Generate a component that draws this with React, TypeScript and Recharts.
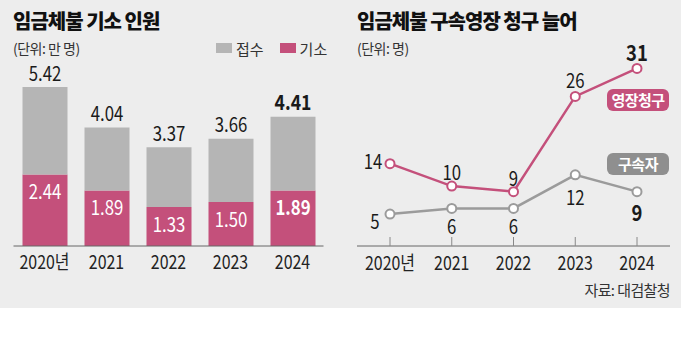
import React from "react";
import { BarChart, Bar, LineChart, Line, XAxis, YAxis, LabelList } from "recharts";

const years = ["2020년", "2021", "2022", "2023", "2024"];
const received = [5.42, 4.04, 3.37, 3.66, 4.41];
const indicted = [2.44, 1.89, 1.33, 1.5, 1.89];
const warrants = [14, 10, 9, 26, 31];
const arrested = [5, 6, 6, 12, 9];

const PINK = "#c4507b";
const BAR_GRAY = "#b5b5b5";
const LINE_GRAY = "#9b9b9b";
const BG = "#ededed";
const KR = "'Noto Sans CJK KR', 'Noto Sans', sans-serif";

const barData = years.map((year, i) => ({
  year,
  total: received[i],
  indicted: indicted[i],
  rest: +(received[i] - indicted[i]).toFixed(2),
}));

const lineData = years.map((year, i) => ({
  year,
  warrant: warrants[i],
  arrested: arrested[i],
}));

const fmt = (v: number) => v.toFixed(2);
const last = years.length - 1;

// condensed-looking text: squeeze horizontally around the anchor point
function Narrow({ x, y, size, bold, fill, children }: any) {
  return (
    <text
      transform={`translate(${x},${y}) scale(0.84,1)`}
      textAnchor="middle"
      dominantBaseline="central"
      fontSize={size}
      fontWeight={bold ? 700 : 400}
      fontFamily={KR}
      fill={fill}
    >
      {children}
    </text>
  );
}

function BarTick({ x, y, payload }: any) {
  return (
    <Narrow x={x} y={y + 15} size={19} fill="#222">
      {payload.value}
    </Narrow>
  );
}

function LineTick({ x, y, payload }: any) {
  return (
    <g>
      <line x1={x} x2={x} y1={y - 9} y2={y} stroke="#888" strokeWidth={1} />
      <Narrow x={x} y={y + 16} size={19} fill="#222">
        {payload.value}
      </Narrow>
    </g>
  );
}

const warrantOffsets = [
  [-17, -3],
  [0, -15],
  [0, -14],
  [0, -17],
  [0, -17],
];
const arrestedOffsets = [
  [-15, 6],
  [0, 17],
  [0, 17],
  [0, 21],
  [0, 20],
];

function makeLineLabel(offsets: number[][]) {
  return (props: any) => {
    const { x, y, value, index } = props;
    const [dx, dy] = offsets[index];
    const bold = index === last;
    return (
      <Narrow x={x + dx} y={y + dy} size={bold ? 22 : 20} bold={bold} fill="#1a1a1a">
        {value}
      </Narrow>
    );
  };
}

function TotalLabel(props: any) {
  const { x, y, width, value, index } = props;
  const bold = index === last;
  return (
    <Narrow x={x + width / 2} y={y - 15} size={bold ? 21 : 20} bold={bold} fill="#1a1a1a">
      {fmt(value)}
    </Narrow>
  );
}

function IndictedLabel(props: any) {
  const { x, y, width, value, index } = props;
  const bold = index === last;
  return (
    <Narrow x={x + width / 2} y={y + 16} size={20} bold={bold} fill="#fff">
      {fmt(value)}
    </Narrow>
  );
}

const badge = (bg: string): React.CSSProperties => ({
  position: "absolute",
  left: 607,
  width: 62,
  height: 22,
  borderRadius: 6,
  background: bg,
  color: "#fff",
  fontFamily: KR,
  fontWeight: 700,
  fontSize: 15,
  lineHeight: "22px",
  textAlign: "center",
  letterSpacing: -0.5,
});

const title: React.CSSProperties = {
  position: "absolute",
  top: 6,
  fontFamily: KR,
  fontWeight: 900,
  fontSize: 20,
  letterSpacing: -1,
  color: "#111",
};

const unit: React.CSSProperties = {
  position: "absolute",
  top: 38,
  fontFamily: KR,
  fontSize: 14,
  color: "#333",
  letterSpacing: -0.5,
};

export default function App() {
  return (
    <div style={{ position: "absolute", left: 0, top: 0, width: 681, height: 351, background: "#fff", overflow: "hidden" }}>
      <div style={{ position: "absolute", left: 0, top: 0, width: 681, height: 308, background: BG }} />

      {/* left: bar chart */}
      <div style={{ ...title, left: 13 }}>임금체불 기소 인원</div>
      <div style={{ ...unit, left: 13 }}>(단위: 만 명)</div>
      <div style={{ position: "absolute", left: 216, top: 38, display: "flex", alignItems: "center", fontFamily: KR, fontSize: 15, color: "#333", height: 20 }}>
        <span style={{ width: 16, height: 10, background: BAR_GRAY, display: "inline-block", marginRight: 4 }} />
        <span style={{ marginRight: 16 }}>접수</span>
        <span style={{ width: 16, height: 10, background: PINK, display: "inline-block", marginRight: 4 }} />
        <span>기소</span>
      </div>
      <div style={{ position: "absolute", left: 0, top: 0 }}>
        <BarChart width={340} height={308} data={barData} margin={{ top: 70, right: 16.5, bottom: 32, left: 13.5 }}>
          <XAxis
            dataKey="year"
            tickLine={false}
            tickSize={0}
            tickMargin={0}
            axisLine={{ stroke: "#666", strokeWidth: 1 }}
            tick={<BarTick />}
            height={30}
            interval={0}
          />
          <YAxis hide domain={[0, 6]} />
          <Bar dataKey="indicted" stackId="a" fill={PINK} barSize={45} isAnimationActive={false}>
            <LabelList dataKey="indicted" content={<IndictedLabel />} />
          </Bar>
          <Bar dataKey="rest" stackId="a" fill={BAR_GRAY} barSize={45} isAnimationActive={false}>
            <LabelList dataKey="total" content={<TotalLabel />} />
          </Bar>
        </BarChart>
      </div>

      {/* right: line chart */}
      <div style={{ ...title, left: 357 }}>임금체불 구속영장 청구 늘어</div>
      <div style={{ ...unit, left: 357 }}>(단위: 명)</div>
      <div style={{ position: "absolute", left: 340, top: 0 }}>
        <LineChart width={341} height={308} data={lineData} margin={{ top: 46, right: 11, bottom: 32, left: 17 }}>
          <XAxis
            dataKey="year"
            tickLine={false}
            tickSize={0}
            tickMargin={0}
            axisLine={{ stroke: "#666", strokeWidth: 1 }}
            tick={<LineTick />}
            padding={{ left: 33, right: 33 }}
            height={30}
            interval={0}
          />
          <YAxis hide domain={[-0.7, 35]} />
          <Line
            dataKey="arrested"
            stroke={LINE_GRAY}
            strokeWidth={2.5}
            dot={{ r: 4.5, fill: "#fff", stroke: LINE_GRAY, strokeWidth: 2 }}
            isAnimationActive={false}
          >
            <LabelList dataKey="arrested" content={makeLineLabel(arrestedOffsets)} />
          </Line>
          <Line
            dataKey="warrant"
            stroke={PINK}
            strokeWidth={2.5}
            dot={{ r: 4.5, fill: "#fff", stroke: PINK, strokeWidth: 2 }}
            isAnimationActive={false}
          >
            <LabelList dataKey="warrant" content={makeLineLabel(warrantOffsets)} />
          </Line>
        </LineChart>
      </div>
      <div style={{ ...badge(PINK), top: 89 }}>영장청구</div>
      <div style={{ ...badge("#8f8f8f"), top: 153 }}>구속자</div>

      <div style={{ position: "absolute", right: 11, top: 279, fontFamily: KR, fontSize: 15, color: "#333", letterSpacing: -0.6 }}>
        자료: 대검찰청
      </div>
    </div>
  );
}
